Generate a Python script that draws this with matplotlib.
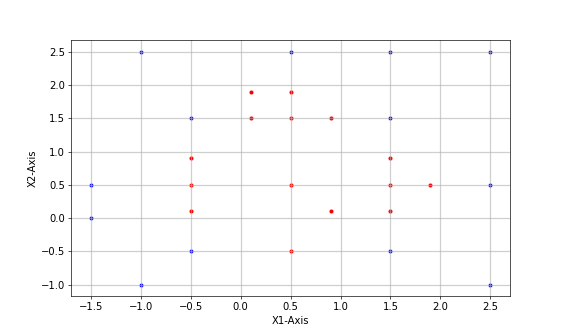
import matplotlib.pyplot as plt

# class 1 (blue)
blue_x1 = [-1.5, -1.5, -1.0, -1.0, -0.5, -0.5, 0.5, 1.5, 1.5, 1.5, 2.5, 2.5, 2.5]
blue_x2 = [0.5, 0.0, 2.5, -1.0, 1.5, -0.5, 2.5, 2.5, 1.5, -0.5, 2.5, 0.5, -1.0]

# class 2 (red)
red_x1 = [0.1, 0.1, 0.5, 0.5, 0.9, -0.5, -0.5, -0.5, 0.5, 0.9, 0.5, 1.5, 1.5, 1.5, 1.9]
red_x2 = [1.9, 1.5, 1.9, 1.5, 1.5, 0.9, 0.5, 0.1, 0.5, 0.1, -0.5, 0.9, 0.5, 0.1, 0.5]

fig, ax = plt.subplots(figsize=(9.45, 5.55), dpi=60)
ax.scatter(blue_x1, blue_x2, c='blue', marker='o', s=22, linewidths=0, zorder=1)
ax.scatter(red_x1, red_x2, c='red', marker='o', s=24, linewidths=0, zorder=1)
ax.grid(True, color='#b0b0b0', alpha=0.6, linewidth=1.5)
ax.set_xlabel('X1-Axis', fontsize=12)
ax.set_ylabel('X2-Axis', fontsize=12)
ax.tick_params(labelsize=12)
fig.savefig('out.png')
